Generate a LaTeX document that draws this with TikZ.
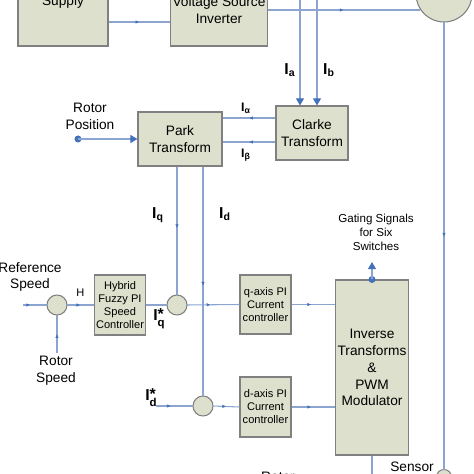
\documentclass[tikz,border=0pt]{standalone}
\usepackage{amsmath}
\usepackage{fontspec}
\setmainfont{Liberation Sans}
\usetikzlibrary{arrows.meta,decorations.markings}
\definecolor{boxfill}{RGB}{221,224,204}
\definecolor{boxline}{RGB}{128,128,128}
\definecolor{sigline}{RGB}{140,165,208}
\definecolor{sigtip}{RGB}{68,114,186}
\newcommand{\cur}[1]{$\textbf{I}_{\textbf{#1}}$}
\newcommand{\curref}[1]{\textbf{I}\rlap{\raisebox{0.5pt}{\textbf{*}}}\raisebox{-3.5pt}{\fontsize{6.5}{7}\selectfont\textbf{#1}}}

\begin{document}
\begin{tikzpicture}[x=0.02cm,y=-0.02cm,
	block/.style={draw=boxline,fill=boxfill,line width=0.6pt,inner sep=1pt,align=center,font=\fontsize{7.8}{9.6}\selectfont},
	small/.style={font=\fontsize{6.3}{7.4}\selectfont},
	sum/.style={draw=boxline,fill=boxfill,line width=0.6pt,circle,minimum size=0.4cm,inner sep=0pt,outer sep=0pt},
	sig/.style={draw=sigline,line width=0.6pt},
	blueend/.style={-{Triangle[length=4pt,width=4.5pt,color=sigtip]}},
	midtip/.style={postaction={decorate},decoration={markings,mark=at position #1 with {\arrow[sigtip]{Latex[length=2.2pt,width=2pt]}}}},
	midtip/.default=0.5,
	txt/.style={align=center,font=\fontsize{7.8}{9.6}\selectfont},
	cur/.style={font=\fontsize{9}{10}\selectfont,inner sep=1pt}]
	\clip (0,0) rectangle (474,474);
	% blocks
	\node[block,minimum width=1.8cm,minimum height=1.76cm] (supply) at (63,2) {Supply};
	\node[block,minimum width=1.8cm,minimum height=1.44cm] (vsi) at (219,10) {Voltage Source\\Inverter};
	\node[draw=boxline,fill=boxfill,line width=0.6pt,circle,minimum size=1.12cm,outer sep=0pt] (motor) at (444,-6) {};
	\node[block,minimum width=1.44cm,minimum height=1.08cm] (clarke) at (312,133) {Clarke\\Transform};
	\node[block,minimum width=1.68cm,minimum height=1.08cm] (park) at (180,139) {Park\\Transform};
	\node[block,small,minimum width=1cm,minimum height=1.2cm] (fuzzy) at (120,305) {Hybrid\\Fuzzy PI\\Speed\\Controller};
	\node[block,small,minimum width=1.02cm,minimum height=1.18cm] (qpi) at (265.5,304.5) {q-axis PI\\Current\\controller};
	\node[block,small,minimum width=1.02cm,minimum height=1.2cm] (dpi) at (265.5,407) {d-axis PI\\Current\\controller};
	\node[block,minimum width=1.44cm,minimum height=3.5cm] (inv) at (372,367.5) {Inverse\\Transforms\\\&\\PWM\\Modulator};
	\node[sum] (sumw) at (57,305) {};
	\node[sum] (sumq) at (177,305) {};
	\node[sum] (sumd) at (203,406) {};
	\node[draw=boxline,fill=boxfill,line width=0.6pt,circle,minimum size=0.3cm,inner sep=0pt,outer sep=0pt] (sensor) at (444,477) {};
	% free ends
	\coordinate (pw) at (141,22);
	\coordinate (iatop) at (300,-10);
	\coordinate (ibtop) at (317,-10);
	\coordinate (ialpha) at (250,118);
	\coordinate (ibeta) at (250,142);
	\coordinate (rpos) at (78,139);
	\coordinate (wref) at (23,305);
	\coordinate (wrot) at (57,353);
	\coordinate (idref) at (156,406);
	\coordinate (gate) at (372,262);
	\coordinate (invout) at (372,480);
	% connectors
	\draw[sig,midtip] (supply.east |- pw) -- (vsi.west |- pw);
	\draw[sig,midtip] (vsi.east) -- (vsi.east -| motor.209);
	\draw[sig,blueend] (iatop) -- (iatop |- clarke.north);
	\draw[sig,blueend] (ibtop) -- (ibtop |- clarke.north);
	\draw[sig,midtip] (clarke.west |- ialpha) -- (park.east |- ialpha);
	\draw[sig,midtip] (clarke.west |- ibeta) -- (park.east |- ibeta);
	\fill[sigtip] (rpos) circle (2pt);
	\draw[sig,blueend] (rpos) -- (park.west);
	\draw[sig,midtip=0.48] (sumq.north |- park.south) -- (sumq.north);
	\draw[sig,midtip=0.52] (sumd.north |- park.south) -- (sumd.north);
	\draw[sig,midtip=0.3] (wref) -- (sumw.west);
	\draw[sig,midtip] (wrot) -- (sumw.south);
	\draw[sig,midtip] (sumw.east) -- (fuzzy.west) node[midway,above=1pt,small]{H};
	\draw[sig] (fuzzy.east) -- (sumq.west);
	\draw[sig,midtip=0.45] (sumq.east) -- (qpi.west);
	\draw[sig,midtip=0.45] (qpi.east) -- (inv.west |- qpi.east);
	\draw[sig,midtip=0.4] (idref) -- (sumd.west);
	\draw[sig,midtip] (sumd.east) -- (dpi.west);
	\draw[sig,midtip=0.45] (dpi.east) -- (inv.west |- dpi.east);
	\fill[sigtip] (inv.north) circle (2pt);
	\draw[sig,blueend] (inv.north) -- (gate);
	\draw[sig] (inv.south) -- (invout);
	\draw[sig,midtip=0.48] (motor.south) -- (sensor.north);
	% labels
	\node[cur] (ia) at (290,70) {\cur{a}};
	\node[cur] (ib) at (329,70) {\cur{b}};
	\node[font=\fontsize{7}{8}\selectfont] (ial) at (246,108) {\cur{α}};
	\node[font=\fontsize{7}{8}\selectfont] (ibe) at (246,155) {\cur{β}};
	\node[cur] (iq) at (158,215) {\cur{q}};
	\node[cur] (id) at (225,214) {\cur{d}};
	\node[cur] (iqs) at (159,319) {\curref{q}};
	\node[cur] (ids) at (151,398) {\curref{d}};
	\node[txt] (rposlbl) at (90,116) {Rotor\\Position};
	\node[txt] (wreflbl) at (30,277) {Reference\\Speed};
	\node[txt] (wrotlbl) at (56,371) {Rotor\\Speed};
	\node[align=center,font=\fontsize{6.6}{8}\selectfont] (gatelbl) at (376,232) {Gating Signals\\for Six\\Switches};
	\node[txt] (senslbl) at (412,467) {Sensor};
	\node[txt] (rotlbl) at (278,477) {Rotor};
\end{tikzpicture}
\end{document}
